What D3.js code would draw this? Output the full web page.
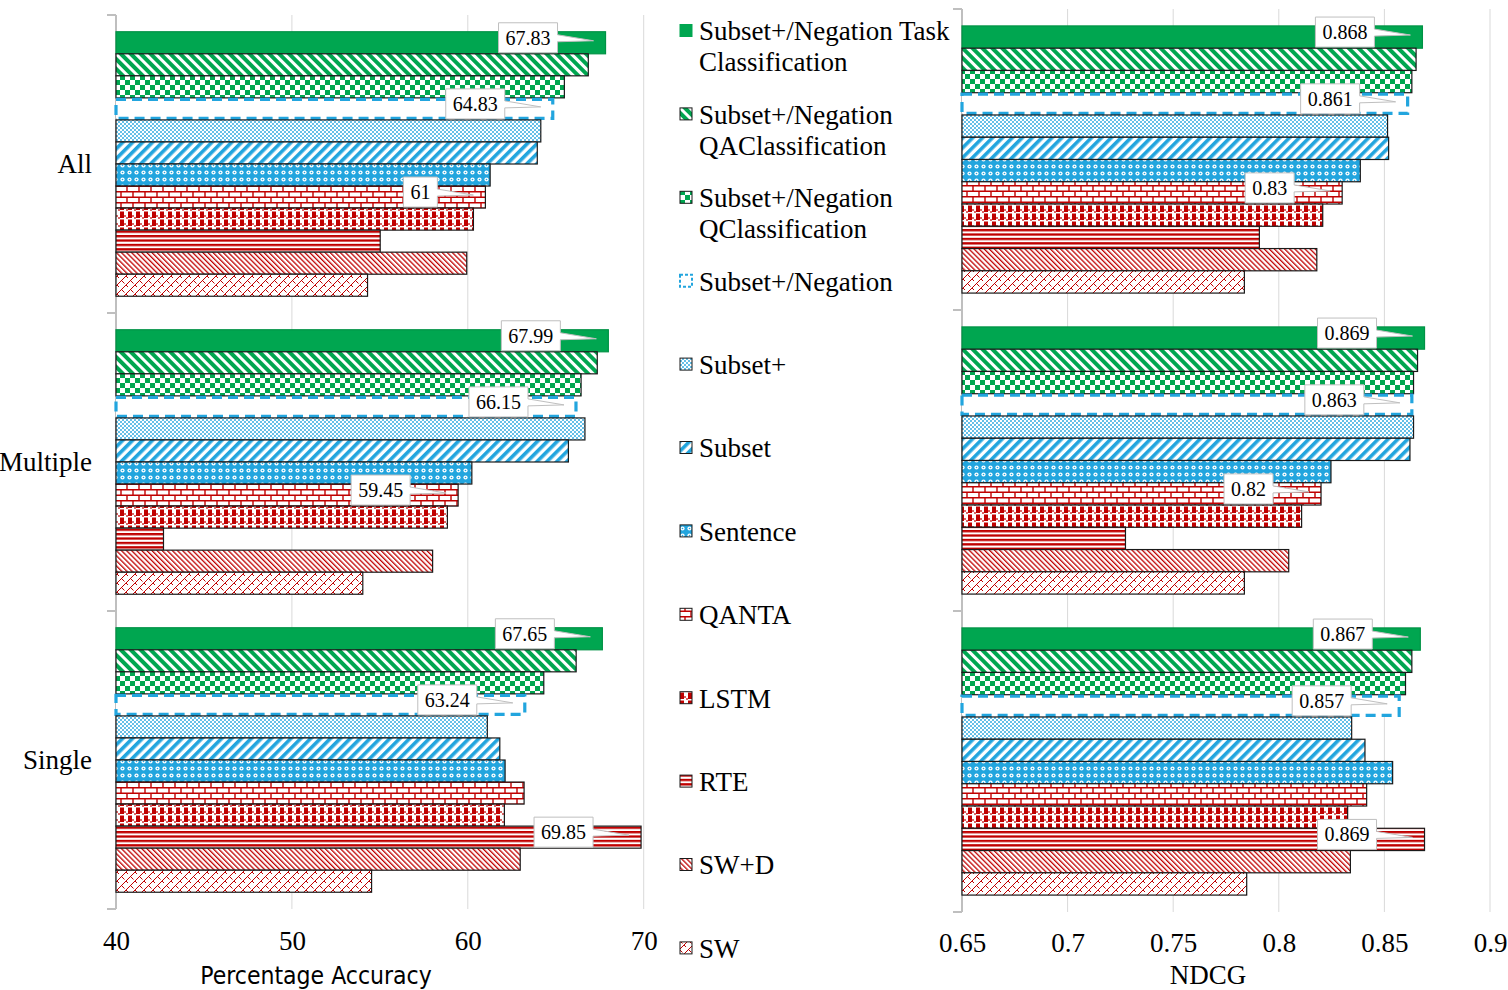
<!DOCTYPE html>
<html>
<head>
<meta charset="utf-8">
<script src="https://cdn.jsdelivr.net/npm/d3@7"></script>
<style>
body { margin: 0; background: #fff; }
text { font-family: "Liberation Serif", "Times New Roman", serif; fill: #000; }
</style>
</head>
<body>
<svg width="1508" height="990"></svg>
<script>
const groups = ["All", "Multiple", "Single"];
const models = [
  "Subset+/Negation Task Classification",
  "Subset+/Negation QAClassification",
  "Subset+/Negation QClassification",
  "Subset+/Negation",
  "Subset+",
  "Subset",
  "Sentence",
  "QANTA",
  "LSTM",
  "RTE",
  "SW+D",
  "SW"
];
const accuracyAll      = [67.83, 66.85, 65.49, 64.83, 64.15, 63.95, 61.27, 61, 60.32, 55.02, 59.94, 54.3];
const accuracyMultiple = [67.99, 67.36, 66.44, 66.15, 66.66, 65.72, 60.23, 59.45, 58.84, 42.7, 58.0, 54.03];
const accuracySingle   = [67.65, 66.16, 64.32, 63.24, 61.11, 61.82, 62.12, 63.2, 62.08, 69.85, 62.98, 54.53];
const ndcgAll      = [0.868, 0.865, 0.863, 0.861, 0.8515, 0.852, 0.8386, 0.83, 0.8208, 0.7908, 0.818, 0.7837];
const ndcgMultiple = [0.869, 0.8657, 0.8638, 0.863, 0.8638, 0.8621, 0.8247, 0.82, 0.8108, 0.7274, 0.8047, 0.7837];
const ndcgSingle   = [0.867, 0.863, 0.860, 0.857, 0.8345, 0.8408, 0.8539, 0.8416, 0.8326, 0.869, 0.8339, 0.7848];
const accuracyTicks = [40, 50, 60, 70];
const ndcgTicks = [0.65, 0.7, 0.75, 0.8, 0.85, 0.9];

const GREEN = "#00a650", BLUE = "#22a5de", RED = "#c00000";
const SERIF = "'Liberation Serif', 'Times New Roman', serif";

const svg = d3.select("svg");
const defs = svg.append("defs");

// fill patterns, one per model
const stripes = (id, color, angle, period, w) => {
  const p = defs.append("pattern").attr("id", id)
    .attr("patternUnits", "userSpaceOnUse")
    .attr("width", period).attr("height", period)
    .attr("patternTransform", `rotate(${angle})`);
  p.append("rect").attr("width", period).attr("height", period).attr("fill", "#fff");
  p.append("rect").attr("width", w).attr("height", period).attr("fill", color);
};
stripes("p1", GREEN, -45, 7, 4);
stripes("p5", BLUE, 45, 7, 3.6);
stripes("p10", RED, -45, 3.6, 1.3);

let p = defs.append("pattern").attr("id", "p2")
  .attr("patternUnits", "userSpaceOnUse").attr("width", 10).attr("height", 10);
p.append("rect").attr("width", 10).attr("height", 10).attr("fill", "#fff");
p.append("rect").attr("width", 5).attr("height", 5).attr("fill", GREEN);
p.append("rect").attr("x", 5).attr("y", 5).attr("width", 5).attr("height", 5).attr("fill", GREEN);

p = defs.append("pattern").attr("id", "p4")
  .attr("patternUnits", "userSpaceOnUse").attr("width", 4).attr("height", 4);
p.append("rect").attr("width", 4).attr("height", 4).attr("fill", "#fff");
p.append("circle").attr("cx", 1).attr("cy", 1).attr("r", 0.95).attr("fill", BLUE);
p.append("circle").attr("cx", 3).attr("cy", 3).attr("r", 0.95).attr("fill", BLUE);

p = defs.append("pattern").attr("id", "p6")
  .attr("patternUnits", "userSpaceOnUse").attr("width", 7).attr("height", 7);
p.append("rect").attr("width", 7).attr("height", 7).attr("fill", BLUE);
p.append("circle").attr("cx", 3.5).attr("cy", 3.5).attr("r", 2.1).attr("fill", "#fff");
p.append("circle").attr("cx", 3.5).attr("cy", 3.5).attr("r", 0.8).attr("fill", BLUE);

p = defs.append("pattern").attr("id", "p7")
  .attr("patternUnits", "userSpaceOnUse").attr("width", 12).attr("height", 11);
p.append("rect").attr("width", 12).attr("height", 11).attr("fill", "#fff");
p.append("path").attr("stroke", RED).attr("stroke-width", 1.4).attr("fill", "none")
  .attr("d", "M0,0.7H12M0,6.2H12M1,0.7V6.2M7,6.2V11");

p = defs.append("pattern").attr("id", "p8")
  .attr("patternUnits", "userSpaceOnUse").attr("width", 8).attr("height", 8);
p.append("rect").attr("width", 8).attr("height", 8).attr("fill", "#fff");
p.append("rect").attr("x", 0).attr("y", 0).attr("width", 4).attr("height", 8).attr("fill", RED);
p.append("rect").attr("x", 4).attr("y", 0).attr("width", 2).attr("height", 2).attr("fill", RED).attr("opacity", 0.6);
p.append("rect").attr("x", 6).attr("y", 2).attr("width", 2).attr("height", 2).attr("fill", RED).attr("opacity", 0.6);
p.append("rect").attr("x", 0).attr("y", 3).attr("width", 4).attr("height", 1.5).attr("fill", "#fff");

p = defs.append("pattern").attr("id", "p9")
  .attr("patternUnits", "userSpaceOnUse").attr("width", 4.4).attr("height", 4.4);
p.append("rect").attr("width", 4.4).attr("height", 4.4).attr("fill", "#fff");
p.append("rect").attr("width", 4.4).attr("height", 2.3).attr("fill", RED);

p = defs.append("pattern").attr("id", "p11")
  .attr("patternUnits", "userSpaceOnUse").attr("width", 9).attr("height", 9);
p.append("rect").attr("width", 9).attr("height", 9).attr("fill", "#fff");
p.append("path").attr("stroke", RED).attr("stroke-width", 1).attr("fill", "none")
  .attr("d", "M0,9L9,0M4.5,4.5L7.5,7.5M-4.5,4.5L-1.5,7.5M0,0L2,2");

const fillFor = i => i === 0 ? GREEN : i === 3 ? "#fff" : `url(#p${i})`;

function drawPanel(cfg) {
  const x = d3.scaleLinear().domain(d3.extent(cfg.ticks)).range([cfg.left, cfg.right]);
  const y0 = d3.scaleBand().domain(groups).range([cfg.top, cfg.bottom]);
  const y1 = d3.scaleBand().domain(models).range([0, y0.bandwidth()]).paddingOuter(0.76);
  const x0 = x(cfg.ticks[0]);
  const g = svg.append("g");

  g.selectAll(".grid").data(cfg.ticks.slice(1)).join("line")
    .attr("x1", d => x(d)).attr("x2", d => x(d))
    .attr("y1", cfg.top).attr("y2", cfg.bottom)
    .attr("stroke", "#d9d9d9").attr("stroke-width", 1);

  g.append("line").attr("x1", x0).attr("x2", x0)
    .attr("y1", cfg.top).attr("y2", cfg.bottom)
    .attr("stroke", "#bfbfbf").attr("stroke-width", 2);
  g.selectAll(".bound").data([cfg.top, ...groups.map(d => y0(d) + y0.bandwidth())]).join("line")
    .attr("x1", x0 - 9).attr("x2", x0)
    .attr("y1", d => d).attr("y2", d => d)
    .attr("stroke", "#bfbfbf").attr("stroke-width", 2);

  groups.forEach((grp, gi) => {
    const vals = cfg.values[gi];
    const redMax = d3.max(vals.slice(7));
    const gg = g.append("g").attr("transform", `translate(0,${y0(grp)})`);
    gg.selectAll("rect").data(vals).join("rect")
      .attr("x", x0)
      .attr("y", (d, i) => y1(models[i]) + (i === 3 ? 1.5 : 0))
      .attr("width", d => x(d) - x0)
      .attr("height", (d, i) => y1.bandwidth() - (i === 3 ? 3 : 0))
      .attr("fill", (d, i) => fillFor(i))
      .attr("stroke", (d, i) => i === 0 ? "#009245" : i === 3 ? BLUE : "#1a1a1a")
      .attr("stroke-width", (d, i) => i === 3 ? 3.2 : 1.2)
      .attr("stroke-dasharray", (d, i) => i === 3 ? "10 6" : null);

    // data callouts
    const labelled = vals.map((v, i) => ({ v, i }))
      .filter(d => d.i === 0 || d.i === 3 || (d.i >= 7 && d.v === redMax));
    labelled.forEach(d => {
      const endX = x(d.v);
      const cy = y1(models[d.i]) + y1.bandwidth() / 2;
      const t = gg.append("text").attr("font-size", 20).attr("text-anchor", "middle")
        .text(String(d.v));
      const tw = t.node().getComputedTextLength();
      const bw = tw + 14, bh = 30;
      const bx1 = endX - 48, bx0 = bx1 - bw;
      const bm = cy - 5;
      const by0 = bm - bh / 2, by1 = by0 + bh;
      gg.insert("path", "text:last-of-type")
        .attr("d", `M${bx0},${by0}H${bx1}V${bm - 3}L${endX - 12},${cy - 2}L${bx1},${bm + 4}V${by1}H${bx0}Z`)
        .attr("fill", "#fff").attr("stroke", "#bfbfbf").attr("stroke-width", 1);
      t.attr("x", bx0 + bw / 2).attr("y", bm + 7).raise();
    });
  });

  const ax = g.append("g").attr("transform", `translate(0,${cfg.bottom})`)
    .call(d3.axisBottom(x).tickValues(cfg.ticks).tickSize(0).tickPadding(cfg.pad).tickFormat(d => String(d)));
  ax.select(".domain").remove();
  ax.selectAll("text").attr("font-size", 27).style("font-family", SERIF);

  return y0;
}

const yLeft = drawPanel({
  ticks: accuracyTicks, left: 116, right: 643.7, top: 15, bottom: 909, pad: 22,
  values: [accuracyAll, accuracyMultiple, accuracySingle]
});
drawPanel({
  ticks: ndcgTicks, left: 962, right: 1490, top: 9, bottom: 912, pad: 21,
  values: [ndcgAll, ndcgMultiple, ndcgSingle]
});

svg.selectAll(".cat").data(groups).join("text")
  .attr("x", 92).attr("y", d => yLeft(d) + yLeft.bandwidth() / 2)
  .attr("dy", "0.35em").attr("text-anchor", "end").attr("font-size", 27)
  .text(d => d);

svg.append("text").attr("x", 316).attr("y", 984).attr("text-anchor", "middle")
  .attr("font-size", 24.5)
  .style("font-family", "'Liberation Sans Narrow', 'DejaVu Sans Condensed', sans-serif")
  .text("Percentage Accuracy");
svg.append("text").attr("x", 1208).attr("y", 984).attr("text-anchor", "middle")
  .attr("font-size", 27).text("NDCG");

// legend
const legend = svg.append("g");
models.forEach((m, i) => {
  const cy = 31 + i * 83.4;
  const item = legend.append("g");
  item.append("rect").attr("x", 680).attr("y", cy - 6.5).attr("width", 12).attr("height", 12)
    .attr("fill", fillFor(i))
    .attr("stroke", i === 0 ? GREEN : i === 3 ? BLUE : "#1a1a1a")
    .attr("stroke-width", i === 3 ? 2 : 1)
    .attr("stroke-dasharray", i === 3 ? "3 2" : null);
  const words = m.split(" ");
  const lines = [];
  let line = [];
  const probe = item.append("text").attr("font-size", 27);
  words.forEach(w => {
    const next = [...line, w].join(" ");
    probe.text(next);
    if (line.length && probe.node().getComputedTextLength() > 262) {
      lines.push(line.join(" "));
      line = [w];
    } else {
      line.push(w);
    }
  });
  lines.push(line.join(" "));
  probe.remove();
  lines.forEach((l, li) => {
    item.append("text").attr("x", 699).attr("y", cy + li * 31).attr("dy", "0.35em")
      .attr("font-size", 27).text(l);
  });
});
</script>
</body>
</html>
